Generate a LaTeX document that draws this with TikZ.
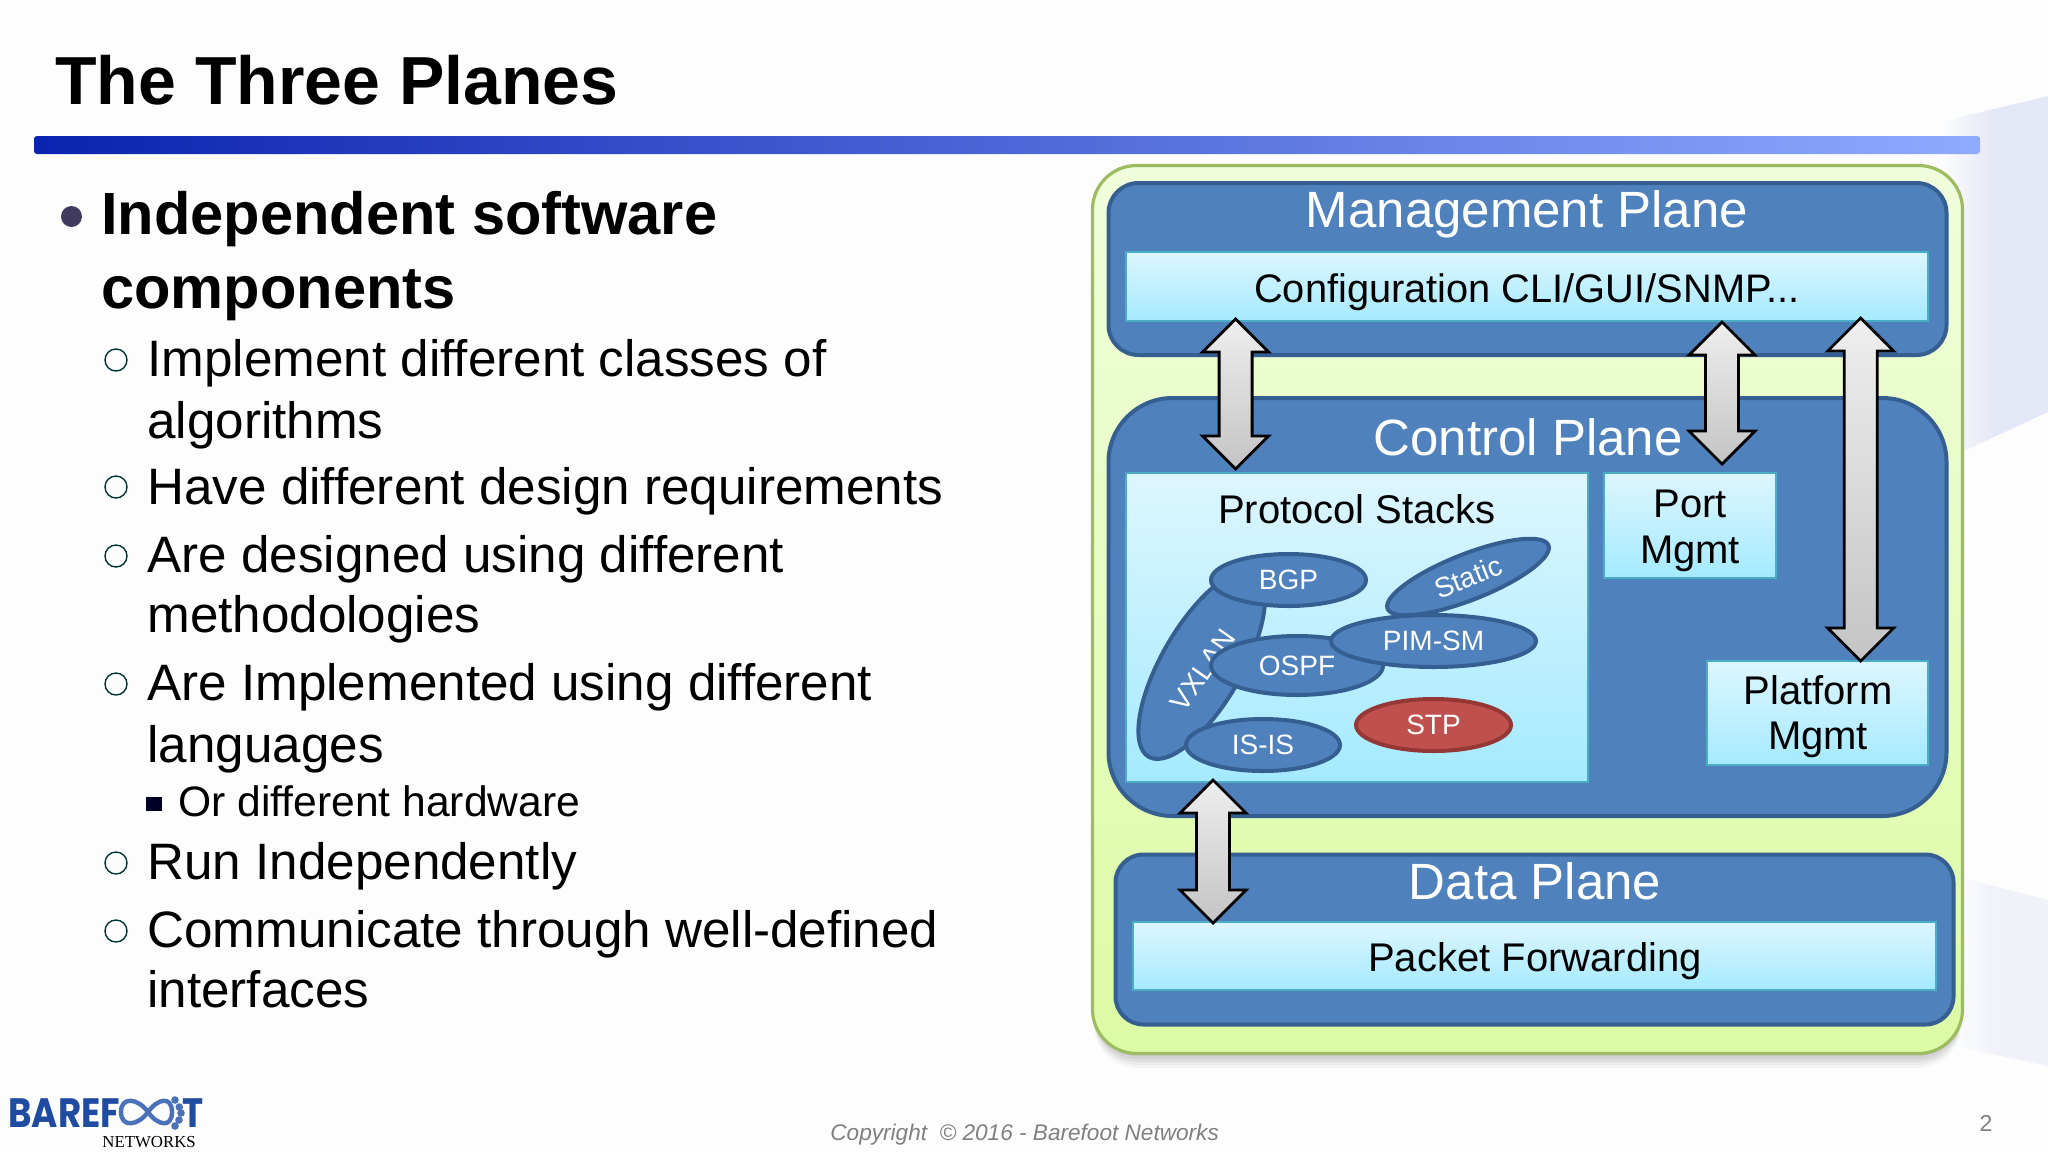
\documentclass[tikz,border=0pt]{standalone}
\usepackage{fontspec}
\setmainfont{Liberation Sans}
\newfontfamily\logoserif{Liberation Serif}
\newfontfamily\logosans{Poppins}
\usetikzlibrary{shapes.geometric,shadows,calc}
\definecolor{planeblue}{HTML}{4F81BD}
\definecolor{planeedge}{HTML}{365F91}
\definecolor{boxtop}{HTML}{DDF6FF}
\definecolor{boxbot}{HTML}{A5EAFF}
\definecolor{boxedge}{HTML}{4BACC6}
\definecolor{greentop}{HTML}{F0FDDC}
\definecolor{greenbot}{HTML}{DCFBA4}
\definecolor{greenedge}{HTML}{9DBB60}
\definecolor{stpfill}{HTML}{C0504D}
\definecolor{stpedge}{HTML}{953735}
\definecolor{logoblue}{HTML}{1F4BA0}
\definecolor{logoblue2}{HTML}{4B72B8}
\definecolor{EEgray}{HTML}{EEEEEE}
\definecolor{C4gray}{HTML}{C4C4C4}
\definecolor{pagebg}{HTML}{FDFDFE}
\definecolor{bandA}{HTML}{E4E7F5}
\definecolor{bandB}{HTML}{F0F1F9}
\definecolor{barL}{HTML}{0A23B0}
\definecolor{barR}{HTML}{90AAFF}
\definecolor{dotgray}{HTML}{3F3A5E}
\tikzset{
  x=0.5pt,y=-0.5pt,
  plane/.style={draw=planeedge,line width=2pt,fill=planeblue,rectangle,inner sep=0pt,outer sep=0pt},
  subbox/.style={draw=boxedge,line width=1.2pt,top color=boxtop,bottom color=boxbot,rectangle,inner sep=0pt,outer sep=0pt,
    general shadow={yshift=-1.5pt,opacity=.3,fill=black}},
  proto/.style={ellipse,draw=planeedge,line width=2pt,fill=planeblue,inner sep=0pt,outer sep=0pt,text=white,font=\fontsize{14}{15}\selectfont},
  dblarrow/.style={draw=black,line width=1.4pt,miter limit=4,top color=EEgray,bottom color=C4gray},
  bodytext/.style={anchor=base west,inner sep=0pt,font=\fontsize{25.6}{28}\selectfont},
  headtext/.style={anchor=base west,inner sep=0pt,font=\fontsize{29.8}{33}\bfseries\selectfont},
  planetitle/.style={anchor=base,inner sep=0pt,text=white,font=\fontsize{25.5}{29}\selectfont},
  boxtext/.style={anchor=base,inner sep=0pt,font=\fontsize{20}{24}\selectfont},
  ringbullet/.style={circle,draw=black!60!teal,line width=.7pt,minimum size=11pt,inner sep=0pt},
}
\newcommand{\ptxt}[1]{\raisebox{-1.2pt}{#1}}
% #1 upper node, #2 lower node, #3 x, #4 rise above lower edge of upper node (pt), #5 rise above top edge of lower node (pt)
\newcommand{\dbl}[5]{%
  \path[dblarrow] let \p1=(#1.south),\p2=(#2.north),\p3=(#3,0) in
    (\x3,\y1+#4) -- (\x3+16.5pt,\y1+#4-16.5pt) -- (\x3+8.25pt,\y1+#4-16.5pt)
    -- (\x3+8.25pt,\y2+#5+16.5pt) -- (\x3+16.5pt,\y2+#5+16.5pt) -- (\x3,\y2+#5)
    -- (\x3-16.5pt,\y2+#5+16.5pt) -- (\x3-8.25pt,\y2+#5+16.5pt)
    -- (\x3-8.25pt,\y1+#4-16.5pt) -- (\x3-16.5pt,\y1+#4-16.5pt) -- cycle;}
\begin{document}
\begin{tikzpicture}
\useasboundingbox (0,0) rectangle (2048,1152);
\fill[pagebg] (0,0) rectangle (2048,1152);
% faint background bands
\shade[left color=pagebg,right color=bandA,middle color=bandA] (1940,122) -- (2048,96) -- (2048,412) -- (1940,462) -- cycle;
\shade[left color=pagebg,right color=bandB,middle color=bandB] (1950,875) -- (2048,900) -- (2048,1066) -- (1950,1045) -- cycle;
% title and rule
\node[anchor=base west,inner sep=0pt,font=\fontsize{34}{38}\bfseries\selectfont] (title) at (55,104) {The Three Planes};
\path[left color=barL,right color=barR,rounded corners=1.5pt] (34,136) rectangle (1980,154);
% left text
\node[circle,fill=dotgray,minimum size=10.5pt,inner sep=0pt] (b0) at (71.5,216.5) {};
\node[headtext] (h1) at (101,234) {Independent software};
\node[headtext] (h2) at (101,308) {components};
\node[ringbullet] (r1) at (116,360) {};
\node[bodytext] (t1) at (147,376) {Implement different classes of};
\node[bodytext] (t1b) at (147,438) {algorithms};
\node[ringbullet] (r2) at (116,487) {};
\node[bodytext] (t2) at (147,504) {Have different design requirements};
\node[ringbullet] (r3) at (116,556) {};
\node[bodytext] (t3) at (147,572) {Are designed using different};
\node[bodytext] (t3b) at (147,632) {methodologies};
\node[ringbullet] (r4) at (116,684) {};
\node[bodytext] (t4) at (147,700) {Are Implemented using different};
\node[bodytext] (t4b) at (147,762) {languages};
\fill[black!85!blue] (146,797) rectangle (162,811);
\node[anchor=base west,inner sep=0pt,font=\fontsize{21.3}{24}\selectfont] (t5) at (178,816) {Or different hardware};
\node[ringbullet] (r6) at (116,863) {};
\node[bodytext] (t6) at (147,879) {Run Independently};
\node[ringbullet] (r7) at (116,931) {};
\node[bodytext] (t7) at (147,947) {Communicate through well-defined};
\node[bodytext] (t7b) at (147,1007) {interfaces};
% outer green panel with soft shadow
\foreach \d/\o in {2/.05,5/.05,8/.05,11/.04,14/.03}
  \fill[black,opacity=\o,rounded corners=22pt] (1094,{170+\d}) rectangle (1961,{1054+\d});
\node[rectangle,draw=greenedge,line width=1.6pt,top color=greentop,bottom color=greenbot,rounded corners=22pt,minimum width=435pt,minimum height=444pt,inner sep=0pt,outer sep=0pt] (panel) at (1527.5,609.5) {};
% planes
\node[plane,rounded corners=15pt,minimum width=419pt,minimum height=86pt] (mgmt) at (1527.5,269) {};
\node[plane,rounded corners=32pt,minimum width=419pt,minimum height=209pt] (ctrl) at (1527.5,607) {};
\node[plane,rounded corners=14pt,minimum width=419pt,minimum height=85pt] (data) at (1534.5,939.5) {};
% boxes
\node[subbox,minimum width=401pt,minimum height=34.5pt] (cfg) at (1527,286.5) {};
\node[subbox,minimum width=231pt,minimum height=154.5pt] (stacks) at (1357,627.5) {};
\node[subbox,minimum width=86pt,minimum height=52.5pt] (port) at (1690,525.5) {};
\node[subbox,minimum width=110.5pt,minimum height=52pt] (plat) at (1817.5,713) {};
\node[subbox,minimum width=401.5pt,minimum height=34pt] (pkt) at (1534.5,956) {};
% labels
\node[planetitle] (lmgmt) at (1527,227) {Management Plane};
\node[planetitle] (lctrl) at (1528,455) {Control Plane};
\node[planetitle] (ldata) at (1535,899) {Data Plane};
\node[boxtext,font=\fontsize{19.9}{24}\selectfont] (lcfg) at (1527,302) {Configuration CLI/GUI/SNMP...};
\node[boxtext] (lstacks) at (1357,523) {Protocol Stacks};
\node[boxtext] (lport) at (1690,517) {Port};
\node[boxtext] (lportb) at (1690,563) {Mgmt};
\node[boxtext] (lplat) at (1818,704) {Platform};
\node[boxtext] (lplatb) at (1818,749) {Mgmt};
\node[boxtext] (lpkt) at (1535,971) {Packet Forwarding};
% protocol ellipses
\node[proto,minimum width=106pt,minimum height=40pt,rotate=60] (vxlan) at (1201.7,665) {};
\node[inner sep=0pt,rotate=55,text=white,font=\fontsize{14}{15}\selectfont] (lvx) at (1203,670) {VXLAN};
\node[proto,minimum width=77.5pt,minimum height=26pt] (bgp) at (1288.5,580) {\ptxt{BGP}};
\node[proto,minimum width=86.5pt,minimum height=23pt,rotate=21.5] (static) at (1468,577) {\ptxt{Static}};
\node[proto,minimum width=86pt,minimum height=29.5pt] (ospf) at (1297,665.5) {\ptxt{OSPF}};
\node[proto,minimum width=102.5pt,minimum height=26pt] (pim) at (1433.5,641) {\ptxt{PIM-SM}};
\node[proto,draw=stpedge,fill=stpfill,minimum width=77.5pt,minimum height=26pt] (stp) at (1433.5,725) {\ptxt{STP}};
\node[proto,minimum width=77pt,minimum height=26pt] (isis) at (1263,745) {\ptxt{IS-IS}};
% double arrows
\dbl{cfg}{stacks}{1235.6}{1pt}{2pt}
\dbl{cfg}{port}{1722}{-.5pt}{4.5pt}
\dbl{cfg}{plat}{1860.7}{1.5pt}{0pt}
\dbl{stacks}{pkt}{1213}{1pt}{-.5pt}
% footer
\node[anchor=base west,inner sep=0pt,text=black!50,font=\fontsize{11.3}{14}\itshape\selectfont] (copy) at (830,1140) {Copyright~~© 2016 - Barefoot Networks};
\node[anchor=base,inner sep=0pt,text=black!50,font=\fontsize{11.5}{14}\selectfont] (pageno) at (1986,1131) {2};
% logo
\node[anchor=base west,inner sep=0pt,text=logoblue,font=\fontsize{20.5}{24}\logosans\bfseries\selectfont,xscale=.87] (logoa) at (8,1127) {BAREF};
\node[anchor=base west,inner sep=0pt,text=logoblue,font=\fontsize{20.5}{24}\logosans\bfseries\selectfont,xscale=.87] (logob) at (182,1127) {T};
\draw[logoblue2,line width=2.2pt] (148,1112) .. controls (138,1098) and (121,1096) .. (121,1112) .. controls (121,1128) and (138,1126) .. (148,1112) .. controls (158,1098) and (172,1096) .. (172,1112) .. controls (172,1128) and (158,1126) .. (148,1112);
\foreach \a/\b in {175/1100,179.3/1107,181/1113,179/1120,175/1126}
  \fill[logoblue2] (\a,\b) circle[radius=1.9pt];
\node[anchor=base west,inner sep=0pt,font=\fontsize{8.4}{11}\logoserif\selectfont] (logoc) at (102,1147) {NETWORKS};
\end{tikzpicture}
\end{document}
